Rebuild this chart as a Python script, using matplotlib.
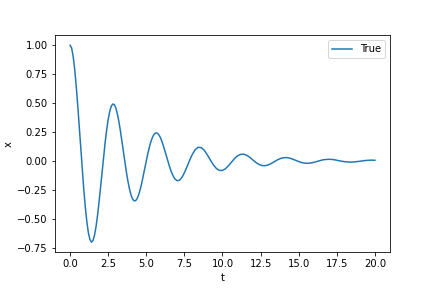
import matplotlib
matplotlib.use("Agg")
import matplotlib.pyplot as plt

# time samples (dense near the start, coarser once the oscillation is small)
t_values = [round(0.1 * i, 1) for i in range(0, 81)] + [round(8.0 + 0.2 * i, 1) for i in range(1, 61)]

x_values = [
    1.000, 0.976, 0.905, 0.794, 0.649, 0.481, 0.297, 0.107, -0.078, -0.250,
    -0.402, -0.527, -0.621, -0.679, -0.702, -0.689, -0.644, -0.570, -0.471, -0.355,
    -0.226, -0.094, 0.037, 0.160, 0.269, 0.359, 0.428, 0.473, 0.492, 0.487,
    0.458, 0.408, 0.341, 0.261, 0.172, 0.079, -0.014, -0.101, -0.179, -0.244,
    -0.295, -0.329, -0.345, -0.343, -0.325, -0.292, -0.247, -0.192, -0.130, -0.064,
    0.001, 0.063, 0.119, 0.166, 0.203, 0.228, 0.241, 0.242, 0.231, 0.209,
    0.178, 0.140, 0.097, 0.052, 0.006, -0.038, -0.078, -0.112, -0.139, -0.158,
    -0.169, -0.170, -0.164, -0.149, -0.129, -0.102, -0.073, -0.041, -0.008, 0.023,
    0.051,
    # t = 8.2 ... 20.0 (step 0.2)
    0.096, 0.118, 0.116, 0.093, 0.054, 0.009, -0.033, -0.065, -0.082, -0.082,
    -0.067, -0.040, -0.009, 0.022, 0.045, 0.057, 0.058, 0.048, 0.030, 0.008,
    -0.014, -0.030, -0.040, -0.041, -0.034, -0.022, -0.006, 0.009, 0.021, 0.028,
    0.029, 0.025, 0.016, 0.005, -0.005, -0.014, -0.019, -0.020, -0.018, -0.012,
    -0.004, 0.003, 0.010, 0.013, 0.014, 0.013, 0.009, 0.003, -0.002, -0.006,
    -0.009, -0.010, -0.009, -0.006, -0.003, 0.001, 0.004, 0.006, 0.007, 0.006,
]

series_label = "True"
x_label = "t"
y_label = "x"

fig, ax = plt.subplots(figsize=(6, 4), dpi=72)
fig.subplots_adjust(left=0.127, right=0.903, top=0.877, bottom=0.125)
ax.plot(t_values, x_values, color="#1f77b4", label=series_label)
ax.set_xlabel(x_label)
ax.set_ylabel(y_label)
ax.legend(loc="upper right")
fig.savefig("out.png", dpi=72)
